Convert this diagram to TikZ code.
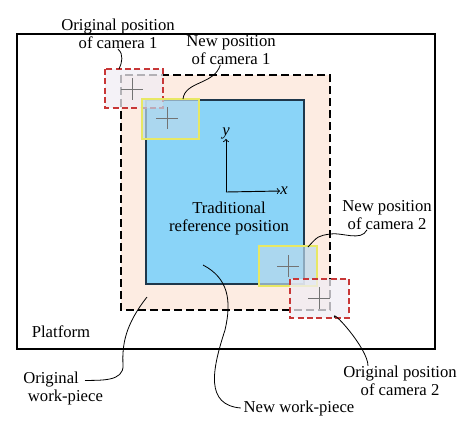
\documentclass[tikz,border=0pt]{standalone}
\usepackage{fontspec}
\setmainfont{Liberation Serif}
\usepackage{tikz}
\usetikzlibrary{positioning}

\definecolor{platecol}{RGB}{253,236,226}
\definecolor{piececol}{RGB}{138,212,248}
\definecolor{piecedraw}{RGB}{30,55,75}
\definecolor{oldcam}{RGB}{200,55,55}
\definecolor{newcam}{RGB}{232,232,100}
\definecolor{newcamfill}{RGB}{186,217,236}
\definecolor{oldcamfill}{RGB}{240,237,244}

\begin{document}
\begin{tikzpicture}[x=0.75pt, y=-0.75pt, >=to,
  every node/.style={font=\fontsize{12.5}{13.5}\selectfont, inner sep=0pt},
  label text/.style={align=center},
  leader/.style={line width=0.6pt},
  old camera/.style={draw=oldcam, dashed, dash pattern=on 4.5pt off 2.5pt, line width=0.8pt, fill=oldcamfill, fill opacity=0.75},
  new camera/.style={draw=newcam, line width=0.9pt, fill=newcamfill, fill opacity=0.7},
  cross/.style={draw=black!55, line width=0.6pt}]%

\useasboundingbox (0,0) rectangle (474,436);

% platform and work-pieces
\draw [line width=0.8pt] (17,34) rectangle (435,349);
\draw [fill=platecol, dashed, dash pattern=on 6pt off 3pt, line width=0.8pt] (121,75) rectangle (330,310);
\draw [fill=piececol, draw=piecedraw, line width=0.9pt] (146,100) rectangle (304,284);

% cameras
\draw [old camera] (105,69) rectangle (163,108);
\draw [new camera] (142,99) rectangle (199,139);
\draw [new camera] (259,246) rectangle (317,286);
\draw [old camera] (290,279) rectangle (349,318);

\foreach \cx/\cy in {132/89, 167/118, 288/266, 319/298}
  \draw [cross] (\cx-11,\cy) -- (\cx+11,\cy) (\cx,\cy-11) -- (\cx,\cy+11);

% axes
\coordinate (origin) at (226,192);
\node (ylab) at (226,133) {\textit{y}};
\node (xlab) at (284,191) {\textit{x}};
\draw [->, line width=0.7pt] (origin) -- (ylab.south);
\draw [->, line width=0.7pt] (origin) -- (xlab.west);

% labels
\node [label text] (orig1) at (118,34) {Original position\\of camera 1};
\node [label text] (new1) at (231,50) {New position\\of camera 1};
\node [label text] (trad) at (229,218) {Traditional\\reference position};
\node [label text] (new2) at (387,215) {New position\\of camera 2};
\node [label text] (orig2) at (400,381) {Original position\\of camera 2};
\node (newwp) at (299,408) {New work-piece};
\node [align=left, anchor=west] (origwp) at (23,388) {Original\\\hspace{3.5pt}work-piece};
\node (platform) at (61,332) {Platform};

\coordinate (c1o) at (119,69);
\coordinate (c1n) at (183,99);
\coordinate (c2n) at (308,247);
\coordinate (c2o) at (335,318);
\coordinate (wpn) at (203,265);
\coordinate (wpo) at (147,297);

% leaders
\draw [leader] (orig1.south) .. controls +(6,5) and +(3,-6) .. (c1o);
\draw [leader] ([xshift=-8pt]new1.south) .. controls +(-6,20) and +(2,-18) .. (c1n);
\draw [leader] ([xshift=-15pt]new2.south) .. controls +(-6,12) and +(12,-2) .. (330,234) .. controls (318,236) .. (c2n);
\draw [leader] (orig2.north) ++(-24pt,0) .. controls +(0,-18) and +(-6,-12) .. (c2o);
\draw [leader] (newwp.west) ++(-2pt,0) .. controls (205,405) and (212,370) .. (225,330) .. controls (232,300) and (228,278) .. (wpn);
\draw [leader] (origwp.north west) ++(46.5pt,-7pt) .. controls (100,380) and (124,382) .. (123,365) .. controls (122,345) and (125,325) .. (wpo);

\end{tikzpicture}
\end{document}
